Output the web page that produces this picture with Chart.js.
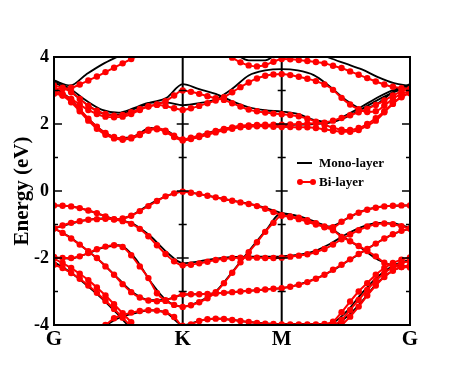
<!DOCTYPE html>
<html><head><meta charset="utf-8">
<script src="https://cdn.jsdelivr.net/npm/chart.js@4.4.0/dist/chart.umd.min.js"></script>
<style>
html,body{margin:0;padding:0;background:#fff;}
#wrap{position:relative;width:474px;height:384px;overflow:hidden;}
#c{position:absolute;left:0;top:0;}
.lgt{position:absolute;font:bold 13px "Liberation Serif","Times New Roman",serif;color:#000;line-height:16px;white-space:nowrap;}
.sym{position:absolute;}
</style></head><body>
<div id="wrap"><canvas id="c" width="474" height="384"></canvas>
<div class="sym" style="left:297px;top:162px;width:15px;height:2px;background:#000"></div>
<div class="lgt" style="left:319px;top:155px">Mono-layer</div>
<div class="sym" style="left:298px;top:181px;width:16px;height:2px;background:#ff0000"></div>
<div class="sym" style="left:297px;top:179px;width:6px;height:6px;border-radius:50%;background:#ff0000"></div>
<div class="sym" style="left:310px;top:179px;width:6px;height:6px;border-radius:50%;background:#ff0000"></div>
<div class="lgt" style="left:319px;top:174px">Bi-layer</div>
</div>
<script>
// high-symmetry points
const kTickPos = [0, 1.287, 2.277, 3.56];
const kTickLabels = ['G', 'K', 'M', 'G'];
const yTicks = [-4, -2, 0, 2, 4];

// k-path for bi-layer (dense) and mono-layer (coarse) bands
const kBi = [0, 0.0858, 0.1716, 0.2574, 0.3432, 0.429, 0.5148, 0.6006, 0.6864, 0.7722, 0.858, 0.9438, 1.0296, 1.1154, 1.2012, 1.287,
  1.3695, 1.452, 1.5345, 1.617, 1.6995, 1.782, 1.8645, 1.947, 2.0295, 2.112, 2.1945, 2.277,
  2.3625, 2.4481, 2.5336, 2.6191, 2.7047, 2.7902, 2.8757, 2.9613, 3.0468, 3.1323, 3.2179, 3.3034, 3.3889, 3.4745, 3.56];
const kMono = [0, 0.1609, 0.3218, 0.4826, 0.6435, 0.8044, 0.9653, 1.1261, 1.287,
  1.452, 1.617, 1.782, 1.947, 2.112, 2.277,
  2.4374, 2.5978, 2.7581, 2.9185, 3.0789, 3.2393, 3.3996, 3.56];

// Bi-layer bands (eV)
const biV1 = [-0.43,-0.44,-0.46,-0.51,-0.58,-0.66,-0.76,-0.84,-0.82,-0.74,-0.60,-0.45,-0.30,-0.16,-0.07,-0.02,
 -0.05,-0.09,-0.14,-0.19,-0.24,-0.29,-0.34,-0.39,-0.45,-0.53,-0.63,-0.72,
 -0.76,-0.80,-0.87,-0.96,-1.06,-1.08,-0.92,-0.76,-0.65,-0.56,-0.50,-0.46,-0.44,-0.43,-0.43];
const biV2 = [-1.12,-1.03,-0.95,-0.90,-0.86,-0.84,-0.83,-0.85,-0.90,-0.98,-1.13,-1.35,-1.62,-1.88,-2.10,-2.22,
 -2.20,-2.16,-2.11,-2.06,-2.03,-2.00,-1.99,-1.99,-1.99,-2.00,-2.00,-1.99,
 -1.96,-1.93,-1.89,-1.82,-1.73,-1.60,-1.44,-1.30,-1.17,-1.06,-0.99,-0.97,-0.99,-1.05,-1.12];
const biV3 = [-1.12,-1.25,-1.42,-1.60,-1.80,-2.00,-2.25,-2.50,-2.78,-3.02,-3.18,-3.27,-3.29,-3.26,-3.18,-3.08,
 -3.08,-3.08,-3.07,-3.06,-3.04,-3.02,-3.00,-2.98,-2.96,-2.94,-2.92,-2.90,
 -2.86,-2.80,-2.72,-2.62,-2.50,-2.35,-2.20,-2.04,-1.88,-1.73,-1.57,-1.42,-1.29,-1.19,-1.12];
const biV4 = [-1.97,-2.00,-2.00,-1.95,-1.85,-1.74,-1.66,-1.62,-1.67,-1.92,-2.25,-2.60,-3.05,-3.28,-3.40,-3.46,
 -3.41,-3.32,-3.20,-3.02,-2.75,-2.44,-2.13,-1.83,-1.53,-1.22,-0.95,-0.74,
 -0.78,-0.84,-0.92,-1.00,-1.08,-1.17,-1.37,-1.50,-1.64,-1.79,-1.95,-2.14,-2.23,-2.27,-2.28];
const biV5 = [-2.02,-2.15,-2.30,-2.47,-2.66,-2.88,-3.12,-3.38,-3.65,-3.92,-4.20,-4.45,-4.60,-4.70,-4.75,-4.80,
 -4.70,-4.55,-4.40,-4.30,-4.22,-4.16,-4.12,-4.09,-4.07,-4.06,-4.05,-4.05,
 -4.05,-4.05,-4.05,-4.05,-4.04,-4.00,-3.85,-3.55,-3.25,-2.95,-2.68,-2.45,-2.27,-2.15,-2.10];
const biV6 = [-4.90,-4.80,-4.70,-4.55,-4.35,-4.12,-4.00,-3.80,-3.70,-3.63,-3.58,-3.56,-3.57,-3.62,-3.76,-4.02,
 -3.98,-3.88,-3.83,-3.81,-3.82,-3.85,-3.88,-3.91,-3.94,-3.96,-3.97,-3.98,
 -3.98,-3.98,-3.98,-3.98,-3.97,-3.90,-3.62,-3.30,-3.00,-2.75,-2.50,-2.30,-2.15,-2.05,-1.98];
const biV7 = [-2.20,-2.30,-2.45,-2.62,-2.82,-3.04,-3.28,-3.52,-3.78,-4.05,-4.30,-4.50,-4.65,-4.75,-4.80,-4.85,
 -4.80,-4.70,-4.60,-4.50,-4.40,-4.32,-4.26,-4.20,-4.16,-4.13,-4.11,-4.10,
 -4.10,-4.10,-4.10,-4.10,-4.10,-4.08,-4.00,-3.75,-3.45,-3.12,-2.82,-2.57,-2.38,-2.27,-2.22];
const biC1 = [2.95,2.85,2.65,2.38,2.10,1.86,1.68,1.57,1.53,1.57,1.67,1.80,1.84,1.76,1.61,1.51,
 1.55,1.61,1.68,1.75,1.81,1.86,1.90,1.92,1.93,1.93,1.92,1.91,
 1.91,1.90,1.90,1.88,1.84,1.80,1.77,1.77,1.82,1.95,2.10,2.35,2.60,2.80,2.92];
const biC1b = [3.00,2.90,2.70,2.44,2.16,1.92,1.73,1.61,1.56,1.60,1.70,1.83,1.87,1.80,1.65,1.54,
 1.59,1.65,1.72,1.79,1.85,1.90,1.94,1.96,1.97,1.98,1.98,1.98,
 1.99,2.00,2.01,2.02,2.04,2.10,2.18,2.26,2.35,2.45,2.57,2.70,2.85,2.97,3.04];
const biC2 = [3.15,3.08,2.95,2.75,2.55,2.40,2.30,2.25,2.27,2.35,2.45,2.53,2.57,2.54,2.47,2.42,
 2.47,2.54,2.62,2.70,2.80,2.95,3.10,3.24,3.36,3.44,3.48,3.49,
 3.46,3.41,3.35,3.28,3.18,3.02,2.78,2.58,2.44,2.36,2.38,2.55,2.75,2.90,2.98];
const biC3 = [2.90,2.86,2.75,2.58,2.42,2.30,2.22,2.20,2.22,2.30,2.42,2.52,2.58,2.68,2.85,3.00,
 2.96,2.90,2.83,2.77,2.72,2.62,2.52,2.43,2.38,2.34,2.31,2.29,
 2.27,2.23,2.16,2.07,1.98,1.89,1.83,1.82,1.88,2.00,2.17,2.38,2.62,2.82,2.95];
const biC4 = [3.05,3.05,3.08,3.18,3.30,3.42,3.55,3.68,3.81,3.94,4.07,4.20,4.32,4.42,4.50,4.55,
 4.55,4.50,4.42,4.30,4.15,3.98,3.84,3.75,3.72,3.76,3.86,3.94,
 3.93,3.91,3.88,3.85,3.81,3.74,3.67,3.57,3.47,3.37,3.27,3.18,3.11,3.07,3.04];

// Mono-layer bands (eV)
const monoV1 = [-0.43,-0.46,-0.56,-0.72,-0.84,-0.68,-0.38,-0.15,-0.02, -0.09,-0.19,-0.29,-0.38,-0.50,-0.66, -0.74,-0.90,-1.06,-0.84,-0.60,-0.48,-0.44,-0.43];
const monoV2 = [-1.12,-0.98,-0.87,-0.82,-0.86,-1.00,-1.35,-1.82,-2.15, -2.10,-2.02,-1.97,-1.96,-1.96,-1.95, -1.91,-1.80,-1.58,-1.30,-1.07,-0.95,-0.97,-1.10];
const monoV3 = [-1.12,-1.38,-1.75,-2.15,-2.62,-3.06,-3.26,-3.24,-3.10, -3.08,-3.06,-3.02,-2.98,-2.94,-2.90, -2.80,-2.64,-2.42,-2.13,-1.83,-1.53,-1.28,-1.12];
const monoV4 = [-1.98,-2.02,-1.88,-1.70,-1.62,-1.98,-2.70,-3.27,-3.45, -3.30,-3.00,-2.42,-1.80,-1.20,-0.66, -0.76,-0.93,-1.10,-1.42,-1.72,-2.05,-2.22,-2.25];
const monoV5 = [-2.12,-2.42,-2.80,-3.22,-3.70,-4.20,-4.50,-4.70,-4.80, -4.60,-4.40,-4.20,-4.10,-4.06,-4.05, -4.05,-4.05,-4.05,-3.78,-3.30,-2.72,-2.36,-2.22];
const monoV6 = [-4.90,-4.70,-4.40,-4.08,-3.80,-3.65,-3.56,-3.64,-4.00, -3.88,-3.80,-3.85,-3.91,-3.95,-3.97, -3.97,-3.97,-3.96,-3.62,-3.05,-2.55,-2.22,-2.05];
const monoC1 = [3.10,2.75,2.22,1.80,1.58,1.64,1.88,1.80,1.54, 1.65,1.80,1.91,1.96,1.97,1.97, 1.98,2.00,2.04,2.20,2.45,2.72,2.95,3.10];
const monoC2 = [3.30,3.05,2.70,2.42,2.34,2.48,2.64,2.64,2.56, 2.62,2.74,3.05,3.45,3.60,3.64, 3.60,3.46,3.12,2.72,2.46,2.62,2.98,3.19];
const monoC3 = [3.25,2.98,2.60,2.32,2.28,2.45,2.64,2.78,3.19, 3.04,2.90,2.68,2.50,2.41,2.37, 2.30,2.12,2.06,2.26,2.52,2.80,3.02,3.15];
const monoC4 = [3.30,3.15,3.48,3.78,4.02,4.25,4.40,4.50,4.55, 4.50,4.35,4.15,3.90,3.90,4.20, 4.25,4.15,3.97,3.80,3.63,3.40,3.22,3.14];

const biBands = [biV1, biV2, biV3, biV4, biV5, biV6, biV7, biC1, biC1b, biC2, biC3, biC4];
const monoBands = [monoV1, monoV2, monoV3, monoV4, monoV5, monoV6, monoC1, monoC2, monoC3, monoC4];

const FONT = '"Liberation Serif", "Times New Roman", serif';
const pts = (k, e) => k.map((x, i) => ({x: x, y: e[i]}));

const datasets = biBands.map(b => ({
  label: 'Bi-layer', data: pts(kBi, b), borderColor: '#ff0000', backgroundColor: '#ff0000',
  borderWidth: 2, pointRadius: 3.2, pointHoverRadius: 3.2, pointBorderWidth: 0,
  pointBackgroundColor: '#ff0000', cubicInterpolationMode: 'monotone', fill: false
})).concat(monoBands.map(b => ({
  label: 'Mono-layer', data: pts(kMono, b), borderColor: '#000000', backgroundColor: '#000000',
  borderWidth: 1.8, pointRadius: 0, pointHoverRadius: 0, cubicInterpolationMode: 'monotone', fill: false
})));

const framePlugin = {
  id: 'frame',
  beforeDatasetsDraw(chart) {
    const {ctx, chartArea: a, scales: {x}} = chart;
    ctx.save();
    ctx.strokeStyle = '#000'; ctx.lineWidth = 2;
    [kTickPos[1], kTickPos[2]].forEach(v => {
      const px = x.getPixelForValue(v);
      ctx.beginPath(); ctx.moveTo(px, a.top); ctx.lineTo(px, a.bottom); ctx.stroke();
    });
    ctx.restore();
  },
  afterDatasetsDraw(chart) {
    const {ctx, chartArea: a, scales: {x, y}} = chart;
    ctx.save();
    ctx.strokeStyle = '#000'; ctx.lineWidth = 2;
    ctx.strokeRect(a.left, a.top, a.right - a.left, a.bottom - a.top);
    ctx.lineWidth = 1.6;
    const inner = [kTickPos[1], kTickPos[2]].map(v => x.getPixelForValue(v));
    for (let v = y.min; v <= y.max; v += 1) {
      const major = (v % 2 === 0);
      const py = y.getPixelForValue(v);
      const L = major ? 8 : 4, C = major ? 6 : 4;
      ctx.beginPath();
      ctx.moveTo(a.left, py); ctx.lineTo(a.left + L, py);
      ctx.moveTo(a.right, py); ctx.lineTo(a.right - L, py);
      inner.forEach(px => { ctx.moveTo(px - C, py); ctx.lineTo(px + C, py); });
      ctx.stroke();
    }
    ctx.restore();
  }
};

new Chart(document.getElementById('c'), {
  type: 'line',
  data: {datasets: datasets},
  options: {
    responsive: false, animation: false, events: [],
    layout: {padding: {top: 57, right: 64, left: 0, bottom: 0}},
    plugins: {legend: {display: false}, tooltip: {enabled: false}},
    scales: {
      x: {
        type: 'linear', min: 0, max: 3.56,
        afterBuildTicks: s => { s.ticks = kTickPos.map(v => ({value: v})); },
        afterFit: s => { s.height = 59; },
        ticks: {callback: (v, i) => kTickLabels[i], autoSkip: false, maxRotation: 0, color: '#000', padding: 2,
          font: {family: FONT, weight: 'bold', size: 21}},
        grid: {display: false, drawTicks: false}, border: {display: false}
      },
      y: {
        type: 'linear', min: -4, max: 4,
        afterBuildTicks: s => { s.ticks = yTicks.map(v => ({value: v})); },
        afterFit: s => { s.width = 54; },
        ticks: {color: '#000', padding: 5, font: {family: FONT, weight: 'bold', size: 18}},
        grid: {display: false, drawTicks: false}, border: {display: false},
        title: {display: true, text: 'Energy (eV)', color: '#000', padding: {top: 10, bottom: 0},
          font: {family: FONT, weight: 'bold', size: 21}}
      }
    }
  },
  plugins: [framePlugin]
});
</script>
</body></html>
